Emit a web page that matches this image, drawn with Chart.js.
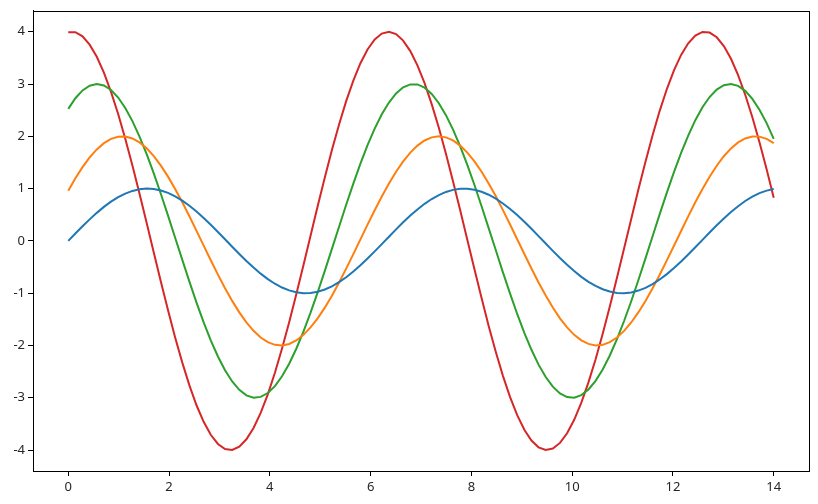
<!DOCTYPE html>
<html>
<head>
<meta charset="utf-8">
<script src="https://cdn.jsdelivr.net/npm/chart.js@4/dist/chart.umd.min.js"></script>
<style>
  html, body { margin: 0; padding: 0; background: #fff; }
  #wrap { width: 818px; height: 504px; }
</style>
</head>
<body>
<div id="wrap"><canvas id="chart" width="818" height="504"></canvas></div>
<script>
/* x grid: 100 samples from 0 to 14 */
const xs = [
  0.000, 0.141, 0.283, 0.424, 0.566, 0.707, 0.848, 0.990, 1.131, 1.273,
  1.414, 1.556, 1.697, 1.838, 1.980, 2.121, 2.263, 2.404, 2.545, 2.687,
  2.828, 2.970, 3.111, 3.253, 3.394, 3.535, 3.677, 3.818, 3.960, 4.101,
  4.242, 4.384, 4.525, 4.667, 4.808, 4.949, 5.091, 5.232, 5.374, 5.515,
  5.657, 5.798, 5.939, 6.081, 6.222, 6.364, 6.505, 6.646, 6.788, 6.929,
  7.071, 7.212, 7.354, 7.495, 7.636, 7.778, 7.919, 8.061, 8.202, 8.343,
  8.485, 8.626, 8.768, 8.909, 9.051, 9.192, 9.333, 9.475, 9.616, 9.758,
  9.899, 10.040, 10.182, 10.323, 10.465, 10.606, 10.747, 10.889, 11.030, 11.172,
  11.313, 11.455, 11.596, 11.737, 11.879, 12.020, 12.162, 12.303, 12.444, 12.586,
  12.727, 12.869, 13.010, 13.152, 13.293, 13.434, 13.576, 13.717, 13.859, 14.000
];

const blue = [
  0.000, 0.141, 0.279, 0.412, 0.536, 0.650, 0.750, 0.836, 0.905, 0.956,
  0.988, 1.000, 0.992, 0.965, 0.918, 0.852, 0.770, 0.673, 0.561, 0.439,
  0.308, 0.171, 0.031, -0.111, -0.250, -0.384, -0.510, -0.626, -0.730, -0.819,
  -0.892, -0.947, -0.983, -0.999, -0.995, -0.972, -0.929, -0.868, -0.789, -0.695,
  -0.586, -0.466, -0.337, -0.201, -0.061, 0.080, 0.220, 0.355, 0.484, 0.602,
  0.709, 0.801, 0.877, 0.936, 0.976, 0.997, 0.998, 0.979, 0.940, 0.883,
  0.808, 0.716, 0.611, 0.493, 0.366, 0.231, 0.091, -0.050, -0.190, -0.327,
  -0.457, -0.577, -0.687, -0.782, -0.862, -0.925, -0.969, -0.994, -0.999, -0.985,
  -0.950, -0.897, -0.825, -0.737, -0.635, -0.519, -0.394, -0.260, -0.122, 0.020,
  0.160, 0.298, 0.429, 0.552, 0.664, 0.763, 0.847, 0.913, 0.962, 0.991
];

const orange = [
  0.959, 1.197, 1.411, 1.596, 1.750, 1.869, 1.951, 1.993, 1.996, 1.959,
  1.883, 1.770, 1.620, 1.439, 1.229, 0.994, 0.740, 0.471, 0.192, -0.091,
  -0.371, -0.644, -0.905, -1.147, -1.367, -1.559, -1.720, -1.847, -1.937, -1.988,
  -1.999, -1.971, -1.903, -1.797, -1.655, -1.481, -1.277, -1.047, -0.796, -0.530,
  -0.253, 0.030, 0.311, 0.586, 0.850, 1.097, 1.322, 1.520, 1.688, 1.822,
  1.920, 1.980, 2.000, 1.980, 1.921, 1.823, 1.689, 1.521, 1.323, 1.098,
  0.852, 0.588, 0.313, 0.031, -0.251, -0.528, -0.794, -1.045, -1.275, -1.480,
  -1.655, -1.796, -1.902, -1.970, -1.999, -1.988, -1.937, -1.847, -1.721, -1.560,
  -1.368, -1.149, -0.906, -0.646, -0.373, -0.092, 0.190, 0.469, 0.738, 0.993,
  1.228, 1.438, 1.619, 1.769, 1.883, 1.959, 1.996, 1.994, 1.951, 1.870
];

const green = [
  2.524, 2.728, 2.877, 2.968, 3.000, 2.972, 2.885, 2.741, 2.541, 2.291,
  1.995, 1.659, 1.290, 0.896, 0.483, 0.061, -0.362, -0.778, -1.179, -1.556,
  -1.902, -2.210, -2.474, -2.688, -2.849, -2.953, -2.998, -2.983, -2.909, -2.777,
  -2.588, -2.349, -2.062, -1.735, -1.372, -0.983, -0.573, -0.153, 0.271, 0.690,
  1.094, 1.477, 1.830, 2.147, 2.421, 2.646, 2.819, 2.936, 2.993, 2.992,
  2.930, 2.810, 2.633, 2.405, 2.128, 1.808, 1.453, 1.069, 0.663, 0.244,
  -0.180, -0.601, -1.009, -1.397, -1.757, -2.082, -2.366, -2.602, -2.787, -2.916,
  -2.986, -2.997, -2.948, -2.840, -2.676, -2.458, -2.191, -1.880, -1.532, -1.154,
  -0.752, -0.335, 0.089, 0.511, 0.922, 1.315, 1.682, 2.015, 2.308, 2.556,
  2.751, 2.893, 2.976, 3.000, 2.964, 2.869, 2.716, 2.509, 2.252, 1.951
];

const red = [
  3.990, 3.990, 3.911, 3.753, 3.520, 3.217, 2.850, 2.426, 1.954, 1.442,
  0.902, 0.344, -0.222, -0.782, -1.327, -1.846, -2.327, -2.763, -3.143, -3.460,
  -3.708, -3.883, -3.980, -3.997, -3.934, -3.793, -3.576, -3.288, -2.934, -2.522,
  -2.059, -1.556, -1.020, -0.465, 0.100, 0.662, 1.212, 1.737, 2.227, 2.673,
  3.066, 3.398, 3.661, 3.852, 3.965, 4.000, 3.954, 3.830, 3.630, 3.356,
  3.016, 2.616, 2.163, 1.667, 1.138, 0.586, 0.022, -0.542, -1.094, -1.626,
  -2.124, -2.581, -2.986, -3.332, -3.610, -3.817, -3.947, -3.999, -3.971, -3.863,
  -3.679, -3.421, -3.094, -2.706, -2.264, -1.777, -1.254, -0.706, -0.144, 0.420,
  0.977, 1.514, 2.021, 2.487, 2.904, 3.262, 3.556, 3.778, 3.926, 3.995,
  3.984, 3.894, 3.725, 3.483, 3.170, 2.795, 2.364, 1.885, 1.370, 0.826
];

const xTicks = [0, 2, 4, 6, 8, 10, 12, 14];
const yTicks = [-4, -3, -2, -1, 0, 1, 2, 3, 4];

const series = [blue, orange, green, red];
const colors = ['#1f77b4', '#ff7f0e', '#2ca02c', '#d62728'];

const FONT = { family: "'Noto Sans', 'Open Sans', sans-serif", size: 13 };

// matplotlib-style box around the plot area
const frame = {
  id: 'frame',
  afterDatasetsDraw(chart) {
    const { ctx, chartArea: a } = chart;
    ctx.save();
    ctx.strokeStyle = '#000';
    ctx.lineWidth = 1;
    ctx.strokeRect(Math.round(a.left) + 0.5, Math.round(a.top) + 0.5,
      Math.round(a.right - a.left), Math.round(a.bottom - a.top));
    ctx.restore();
  }
};

const axisCommon = {
  type: 'linear',
  grid: { drawOnChartArea: false, drawTicks: true, tickLength: 5, tickColor: '#000', tickWidth: 1 },
  border: { display: true, color: '#000', width: 1 },
  ticks: { color: '#262626', font: FONT, padding: 3, autoSkip: false, maxRotation: 0 }
};

new Chart(document.getElementById('chart'), {
  type: 'line',
  data: {
    datasets: series.map((ys, i) => ({
      data: xs.map((x, j) => ({ x, y: ys[j] })),
      borderColor: colors[i],
      borderWidth: 2,
      pointRadius: 0,
      tension: 0,
      fill: false
    }))
  },
  options: {
    responsive: false,
    animation: false,
    events: [],
    layout: { padding: { top: 9, right: 9, left: 0, bottom: 0 } },
    plugins: { legend: { display: false }, tooltip: { enabled: false } },
    scales: {
      x: Object.assign({}, axisCommon, {
        min: -0.7, max: 14.7,
        afterBuildTicks: s => { s.ticks = xTicks.map(v => ({ value: v })); },
        afterFit: s => { s.height = 33; },
        ticks: Object.assign({}, axisCommon.ticks, { callback: v => String(v) })
      }),
      y: Object.assign({}, axisCommon, {
        min: -4.4, max: 4.4,
        afterBuildTicks: s => { s.ticks = yTicks.map(v => ({ value: v })); },
        afterFit: s => { s.width = 33; },
        ticks: Object.assign({}, axisCommon.ticks, { callback: v => String(v).replace('\u2212', '-') })
      })
    }
  },
  plugins: [frame]
});
</script>
</body>
</html>
